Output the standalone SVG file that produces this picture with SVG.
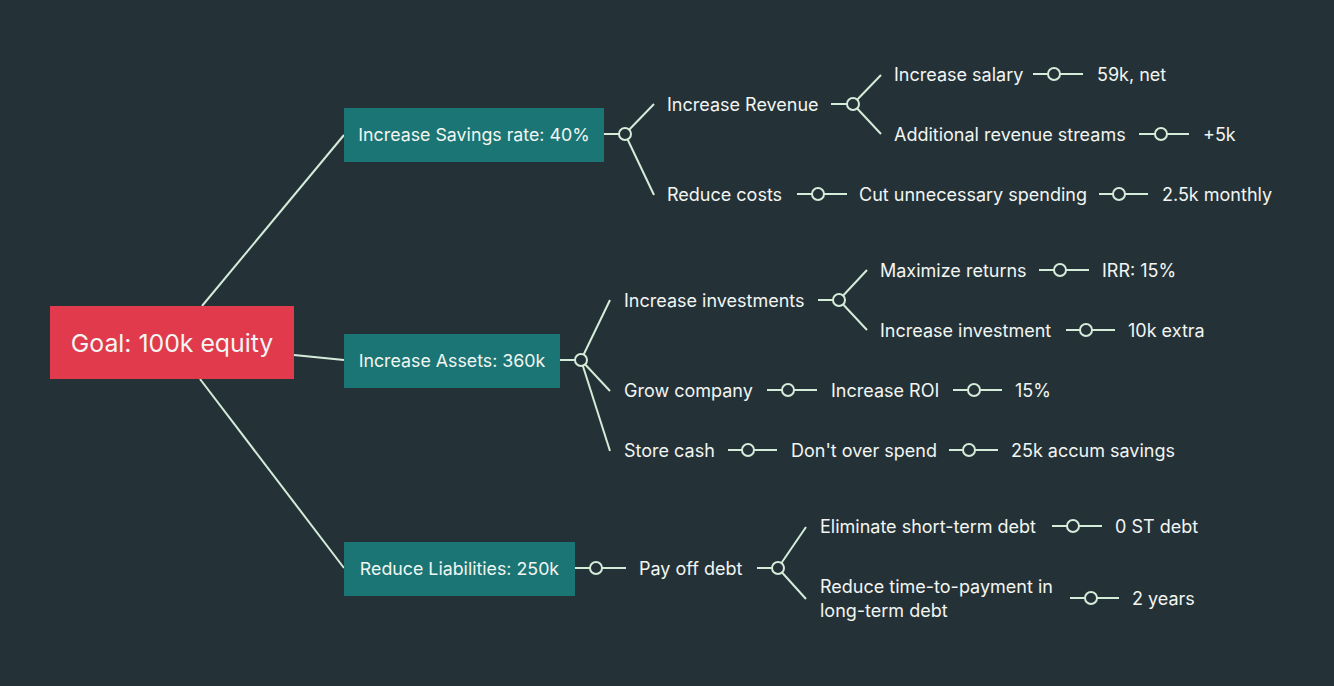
<svg xmlns="http://www.w3.org/2000/svg" width="1334" height="686" viewBox="0 0 1334 686">
<style>
.bg{fill:#243238}
.t{font-family:Inter,Roboto,"Liberation Sans",sans-serif;font-size:18px;fill:#F2F5F2}
.tn{font-family:Inter,Roboto,"Liberation Sans",sans-serif;font-size:17.8px;fill:#F2F5F2;text-anchor:middle}
.root{fill:#E03A4C}
.teal{fill:#1B7574}
.c line,.c polyline{stroke:#D5ECD9;stroke-width:2;fill:none}
.c circle{stroke:#D5ECD9;stroke-width:2;fill:#243238}
</style>
<rect class="bg" x="0" y="0" width="1334" height="686"/>
<g id="connectors" class="c">
<line x1="202" y1="306" x2="344" y2="135"/>
<line x1="294" y1="355" x2="344" y2="360"/>
<line x1="200" y1="379" x2="344" y2="568"/>
<!-- savings -->
<line x1="604" y1="134" x2="619" y2="134"/>
<line x1="625" y1="134" x2="654" y2="104"/>
<line x1="625" y1="134" x2="654" y2="195"/>
<circle cx="625" cy="134" r="6"/>
<line x1="831" y1="104" x2="847" y2="104"/>
<line x1="853" y1="104" x2="881" y2="75"/>
<line x1="853" y1="104" x2="881" y2="134"/>
<circle cx="853" cy="104" r="6"/>
<line x1="1033" y1="74" x2="1083" y2="74"/><circle cx="1054" cy="74" r="6"/>
<line x1="1139" y1="134" x2="1189" y2="134"/><circle cx="1161" cy="134" r="6"/>
<line x1="797" y1="194" x2="847" y2="194"/><circle cx="818" cy="194" r="6"/>
<line x1="1099" y1="194" x2="1148" y2="194"/><circle cx="1119" cy="194" r="6"/>
<!-- assets -->
<line x1="560" y1="360" x2="575" y2="360"/>
<line x1="581" y1="360" x2="610" y2="300"/>
<line x1="581" y1="360" x2="610" y2="391"/>
<line x1="581" y1="360" x2="610" y2="451"/>
<circle cx="581" cy="360" r="6"/>
<line x1="818" y1="300" x2="833" y2="300"/>
<line x1="839" y1="300" x2="867" y2="270"/>
<line x1="839" y1="300" x2="867" y2="330"/>
<circle cx="839" cy="300" r="6"/>
<line x1="1039" y1="270" x2="1089" y2="270"/><circle cx="1060" cy="270" r="6"/>
<line x1="1066" y1="330" x2="1115" y2="330"/><circle cx="1086" cy="330" r="6"/>
<line x1="767" y1="390" x2="817" y2="390"/><circle cx="788" cy="390" r="6"/>
<line x1="953" y1="390" x2="1002" y2="390"/><circle cx="974" cy="390" r="6"/>
<line x1="728" y1="450" x2="777" y2="450"/><circle cx="748" cy="450" r="6"/>
<line x1="949" y1="450" x2="998" y2="450"/><circle cx="969" cy="450" r="6"/>
<!-- liabilities -->
<line x1="575" y1="568" x2="626" y2="568"/><circle cx="596" cy="568" r="6"/>
<line x1="757" y1="568" x2="772" y2="568"/>
<line x1="778" y1="568" x2="806" y2="527"/>
<line x1="778" y1="568" x2="806" y2="599"/>
<circle cx="778" cy="568" r="6"/>
<line x1="1052" y1="526" x2="1102" y2="526"/><circle cx="1073" cy="526" r="6"/>
<line x1="1070" y1="598" x2="1119" y2="598"/><circle cx="1091" cy="598" r="6"/>
</g>
<g id="root">
<rect class="root" x="50" y="306" width="244" height="73"/>
<text class="tn" x="172" y="351.5" style="font-size:24.8px">Goal: 100k equity</text>
</g>
<g id="savings">
<rect class="teal" x="344" y="108" width="260" height="54"/>
<text class="tn" x="474" y="140.5">Increase Savings rate: 40%</text>
</g>
<g id="assets">
<rect class="teal" x="344" y="334" width="216" height="54"/>
<text class="tn" x="452" y="366.5">Increase Assets: 360k</text>
</g>
<g id="liabilities">
<rect class="teal" x="344" y="542" width="231" height="54"/>
<text class="tn" x="459.5" y="574.5">Reduce Liabilities: 250k</text>
</g>
<g id="increase-revenue"><text class="t" x="667" y="110.5">Increase Revenue</text></g>
<g id="reduce-costs"><text class="t" x="667" y="200.5">Reduce costs</text></g>
<g id="increase-salary"><text class="t" x="894" y="80.5">Increase salary</text></g>
<g id="salary-val"><text class="t" x="1097" y="80.5">59k, net</text></g>
<g id="additional-revenue"><text class="t" x="894" y="140.5">Additional revenue streams</text></g>
<g id="additional-val"><text class="t" x="1203" y="140.5">+5k</text></g>
<g id="cut-spending"><text class="t" x="859" y="200.5">Cut unnecessary spending</text></g>
<g id="cut-val"><text class="t" x="1162" y="200.5">2.5k monthly</text></g>
<g id="increase-investments"><text class="t" x="624" y="306.5">Increase investments</text></g>
<g id="maximize-returns"><text class="t" x="880" y="276.5">Maximize returns</text></g>
<g id="irr"><text class="t" x="1102" y="276.5">IRR: 15%</text></g>
<g id="increase-investment"><text class="t" x="880" y="336.5">Increase investment</text></g>
<g id="extra"><text class="t" x="1128" y="336.5">10k extra</text></g>
<g id="grow-company"><text class="t" x="624" y="396.5">Grow company</text></g>
<g id="increase-roi"><text class="t" x="831" y="396.5">Increase ROI</text></g>
<g id="roi-val"><text class="t" x="1015" y="396.5">15%</text></g>
<g id="store-cash"><text class="t" x="624" y="456.5">Store cash</text></g>
<g id="dont-overspend"><text class="t" x="791" y="456.5">Don't over spend</text></g>
<g id="savings-val"><text class="t" x="1011" y="456.5">25k accum savings</text></g>
<g id="pay-off-debt"><text class="t" x="639" y="574.5">Pay off debt</text></g>
<g id="eliminate"><text class="t" x="820" y="532.5">Eliminate short-term debt</text></g>
<g id="st-val"><text class="t" x="1115" y="532.5">0 ST debt</text></g>
<g id="reduce-time"><text class="t" x="820" y="592.5">Reduce time-to-payment in</text><text class="t" x="820" y="616.5">long-term debt</text></g>
<g id="years"><text class="t" x="1132" y="604.5">2 years</text></g>
</svg>
